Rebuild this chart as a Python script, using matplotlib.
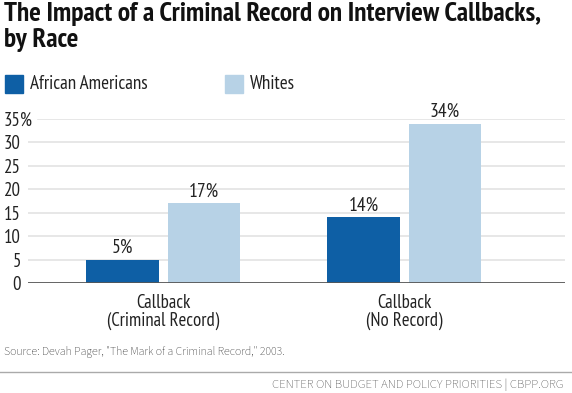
import matplotlib
matplotlib.use("Agg")
import matplotlib.pyplot as plt
import numpy as np
from matplotlib.patches import Rectangle
from matplotlib.lines import Line2D
from matplotlib.transforms import blended_transform_factory

categories = ["Callback\n(Criminal Record)", "Callback\n(No Record)"]
african_americans = [5, 14]
whites = [17, 34]
yticks = [0, 5, 10, 15, 20, 25, 30, 35]
ytick_labels = ["0", "5", "10", "15", "20", "25", "30", "35"]

dark = "#0e5fa5"
light = "#b7d2e6"
narrow = ["PT Sans Narrow", "DejaVu Sans"]
regular = ["Source Sans 3", "DejaVu Sans"]

plt.rcParams["font.family"] = narrow

W, H = 572, 393
fig = plt.figure(figsize=(W / 100, H / 100), dpi=100)
ax = fig.add_axes([28 / W, 1 - 283 / H, (565 - 28) / W, (283 - 119) / H])

x = np.arange(len(categories))
bw = 0.30
b1 = ax.bar(x - 0.168, african_americans, bw, color=dark, zorder=3)
b2 = ax.bar(x + 0.170, whites, bw, color=light, zorder=3)
for bars in (b1, b2):
    ax.bar_label(bars, labels=[f"{v}%" for v in bars.datavalues],
                 padding=2, fontsize=14, color="#222222")

ax.set_xlim(-0.56, 1.668)
ax.set_ylim(0, 35)

# gridlines
for t in yticks[1:]:
    xmin = 10 / 537 if t == 35 else 0
    ax.axhline(t, xmin=xmin, color="#e3e3e3", lw=1.2, zorder=1)
ax.axhline(0, color="#555555", lw=2, zorder=4)

ax.set_yticks(yticks)
ax.set_yticklabels(ytick_labels, fontsize=13.5, color="#222222")
ax.tick_params(axis="y", length=0, pad=5)
# percent sign after the top tick label
tr = blended_transform_factory(fig.transFigure, ax.transData)
ax.text(20 / W, yticks[-1], "%", transform=tr, fontsize=13.5,
        color="#222222", ha="left", va="center_baseline")

ax.set_xticks(x)
ax.set_xticklabels(categories, fontsize=13.5, color="#222222", linespacing=1.0)
ax.tick_params(axis="x", length=0, pad=8)

for s in ax.spines.values():
    s.set_visible(False)

# title
fig.text(4 / W, 1 - 2 / H,
         "The Impact of a Criminal Record on Interview Callbacks,\nby Race",
         fontsize=19.7, fontweight="bold", va="top", ha="left",
         linespacing=1.12, color="#111111")

# legend
for sx, col, lbl in [(5, dark, "African Americans"), (225, light, "Whites")]:
    fig.patches.append(Rectangle((sx / W, 1 - 93 / H), 18 / W, 18 / H,
                                 transform=fig.transFigure, color=col))
    fig.text((sx + 25) / W, 1 - 84 / H, lbl, fontsize=13.8, va="center",
             ha="left", color="#222222")

# source
fig.text(4 / W, 1 - 352 / H,
         "Source: Devah Pager, \"The Mark of a Criminal Record,\" 2003.",
         fontsize=8.5, va="center", ha="left", color="#333333", family=regular)

fig.lines.append(Line2D([0, 1], [1 - 372 / H, 1 - 372 / H],
                        transform=fig.transFigure, color="#aaaaaa", lw=1))

fig.text(564 / W, 1 - 385 / H,
         "CENTER ON BUDGET AND POLICY PRIORITIES | CBPP.ORG",
         fontsize=9.2, va="center", ha="right", color="#555555", family=regular)

fig.savefig("out.png", dpi=100, facecolor="white")
